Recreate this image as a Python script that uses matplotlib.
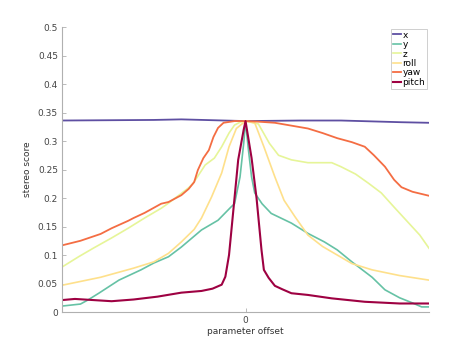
import matplotlib
matplotlib.use("Agg")
import matplotlib.pyplot as plt
import numpy as np

# values (offset normalised to -1..1)
x_off = [-1.0, -0.5, -0.35, 0.0, 0.3, 0.52, 0.85, 1.0]
x_val = [0.336, 0.337, 0.338, 0.335, 0.336, 0.336, 0.333, 0.332]

y_off = [-1.0, -0.90, -0.86, -0.80, -0.69, -0.57, -0.50, -0.42, -0.35, -0.24, -0.15, -0.08,
         -0.06, -0.03, -0.01, 0.0, 0.016, 0.033, 0.05, 0.09, 0.14, 0.25, 0.34, 0.43, 0.50,
         0.58, 0.69, 0.76, 0.84, 0.91, 0.96, 1.0]
y_val = [0.0105, 0.014, 0.021, 0.033, 0.056, 0.074, 0.086, 0.097, 0.114, 0.144, 0.161, 0.184,
         0.19, 0.237, 0.296, 0.335, 0.284, 0.237, 0.209, 0.19, 0.173, 0.156, 0.138, 0.123, 0.109,
         0.088, 0.061, 0.039, 0.025, 0.016, 0.009, 0.009]

z_off = [-1.0, -0.91, -0.83, -0.73, -0.64, -0.55, -0.46, -0.42, -0.31, -0.285, -0.22, -0.17,
         -0.13, -0.09, -0.06, -0.03, 0.0, 0.07, 0.13, 0.18, 0.25, 0.34, 0.47, 0.52, 0.60, 0.67,
         0.74, 0.81, 0.89, 0.95, 1.0]
z_val = [0.079, 0.097, 0.112, 0.13, 0.147, 0.165, 0.182, 0.191, 0.218, 0.226, 0.258, 0.27,
         0.29, 0.314, 0.328, 0.333, 0.335, 0.33, 0.296, 0.275, 0.267, 0.262, 0.262, 0.255, 0.242,
         0.226, 0.209, 0.184, 0.156, 0.135, 0.112]

roll_off = [-1.0, -0.79, -0.61, -0.50, -0.42, -0.35, -0.28, -0.24, -0.185, -0.13, -0.09, -0.05,
            0.0, 0.05, 0.10, 0.16, 0.21, 0.27, 0.34, 0.42, 0.50, 0.58, 0.69, 0.84, 1.0]
roll_val = [0.047, 0.061, 0.077, 0.088, 0.103, 0.123, 0.145, 0.165, 0.202, 0.244, 0.29, 0.322,
            0.335, 0.332, 0.29, 0.237, 0.196, 0.167, 0.135, 0.115, 0.100, 0.085, 0.074, 0.064,
            0.056]

yaw_off = [-1.0, -0.9, -0.79, -0.73, -0.64, -0.61, -0.55, -0.46, -0.42, -0.35, -0.31, -0.28,
           -0.26, -0.23, -0.20, -0.175, -0.15, -0.12, -0.06, 0.0, 0.07, 0.16, 0.34, 0.42, 0.50,
           0.58, 0.65, 0.70, 0.76, 0.81, 0.85, 0.91, 1.0]
yaw_val = [0.117, 0.125, 0.137, 0.147, 0.16, 0.165, 0.174, 0.19, 0.193, 0.205, 0.216, 0.228,
           0.249, 0.27, 0.284, 0.307, 0.323, 0.332, 0.335, 0.335, 0.334, 0.332, 0.322, 0.314,
           0.305, 0.298, 0.29, 0.275, 0.255, 0.232, 0.219, 0.211, 0.204]

pitch_off = [-1.0, -0.93, -0.73, -0.61, -0.48, -0.35, -0.24, -0.18, -0.13, -0.11, -0.09, -0.066,
             -0.04, -0.01, 0.0, 0.033, 0.06, 0.087, 0.10, 0.126, 0.16, 0.20, 0.25, 0.34, 0.47,
             0.65, 0.84, 1.0]
pitch_val = [0.021, 0.023, 0.019, 0.022, 0.027, 0.034, 0.037, 0.041, 0.048, 0.062, 0.10, 0.18,
             0.267, 0.32, 0.335, 0.27, 0.2, 0.109, 0.074, 0.06, 0.046, 0.04, 0.033, 0.03, 0.024,
             0.018, 0.015, 0.015]

series = [
    ("x", x_off, x_val, "#5e4fa2", 1.3),
    ("y", y_off, y_val, "#66c2a5", 1.2),
    ("z", z_off, z_val, "#e6f598", 1.2),
    ("roll", roll_off, roll_val, "#fee08b", 1.2),
    ("yaw", yaw_off, yaw_val, "#f46d43", 1.3),
    ("pitch", pitch_off, pitch_val, "#9e0142", 1.5),
]

fig = plt.figure(figsize=(4.74, 3.51), dpi=100)
ax = fig.add_axes([0.131, 0.111, 0.774, 0.812])

for name, xs, ys, col, lw in series:
    ax.plot(xs, ys, color=col, linewidth=lw, label=name)

ax.set_xlim(-1.0, 1.0)
ax.set_ylim(0, 0.5)
ax.set_xticks([0])
ax.set_xticklabels(["0"])
yt = np.arange(0, 0.501, 0.05)
ax.set_yticks(yt)
ax.set_yticklabels([f"{v:g}" for v in np.round(yt, 2)])

for s in ["top", "right"]:
    ax.spines[s].set_visible(False)
for s in ["left", "bottom"]:
    ax.spines[s].set_color("#b0b0b0")
    ax.spines[s].set_linewidth(0.8)
ax.tick_params(direction="in", length=3, width=0.6, color="#b0b0b0",
               labelsize=6.5, labelcolor="#444444", pad=3)

ax.set_xlabel("parameter offset", fontsize=6.5, color="#333333", labelpad=1)
ax.set_ylabel("stereo score", fontsize=6.5, color="#333333", labelpad=4)

leg = ax.legend(loc="upper right", fontsize=6.5, handlelength=0.9, handletextpad=0.15,
                labelspacing=0.05, borderpad=0.2, borderaxespad=0.2, fancybox=False,
                framealpha=1, edgecolor="#c8c8c8")
leg.get_frame().set_linewidth(0.6)

fig.savefig("out.png", dpi=100)
